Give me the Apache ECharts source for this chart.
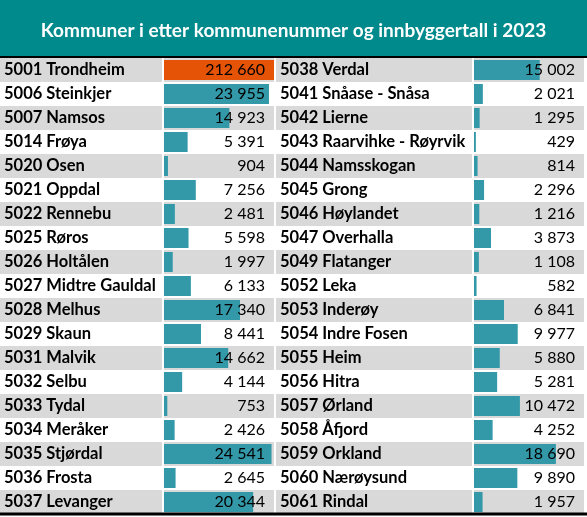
<!DOCTYPE html>
<html><head><meta charset="utf-8">
<script src="https://cdn.jsdelivr.net/npm/echarts@6/dist/echarts.min.js"></script>
<style>html,body{margin:0;padding:0;background:#fff}#c{width:587px;height:517px}</style>
</head><body><div id="c"></div>
<script>
const titleText = 'Kommuner i etter kommunenummer og innbyggertall i 2023';
const leftNames = ['5001 Trondheim','5006 Steinkjer','5007 Namsos','5014 Frøya','5020 Osen','5021 Oppdal','5022 Rennebu','5025 Røros','5026 Holtålen','5027 Midtre Gauldal','5028 Melhus','5029 Skaun','5031 Malvik','5032 Selbu','5033 Tydal','5034 Meråker','5035 Stjørdal','5036 Frosta','5037 Levanger'];
const leftValues = [212660,23955,14923,5391,904,7256,2481,5598,1997,6133,17340,8441,14662,4144,753,2426,24541,2645,20344];
const rightNames = ['5038 Verdal','5041 Snåase - Snåsa','5042 Lierne','5043 Raarvihke - Røyrvik','5044 Namsskogan','5045 Grong','5046 Høylandet','5047 Overhalla','5049 Flatanger','5052 Leka','5053 Inderøy','5054 Indre Fosen','5055 Heim','5056 Hitra','5057 Ørland','5058 Åfjord','5059 Orkland','5060 Nærøysund','5061 Rindal'];
const rightValues = [15002,2021,1295,429,814,2296,1216,3873,1108,582,6841,9977,5880,5281,10472,4252,18690,9890,1957];
const highlightName = '5001 Trondheim';
const AXIS_MAX = 25100;

const FONT = 'Lato';
const TEAL = '#008A8C', BAR = '#3399A9', ORANGE = '#E55306', GRAY = '#D9D9D9';
const fmt = v => String(v).replace(/\B(?=(\d{3})+(?!\d))/g, ' ');

const TOP = 58, H = 456;
const grids = [
  {left: 0, top: TOP, width: 162, height: H},
  {left: 164, top: TOP, width: 110, height: H},
  {left: 276, top: TOP, width: 196, height: H},
  {left: 474, top: TOP, width: 110, height: H}
];
const split = {show: true, areaStyle: {color: [GRAY, '#FFFFFF']}};
const hidden = {show: false};

function nameAxes(gi, names) {
  return [{
    type: 'category', gridIndex: gi, data: names, inverse: true,
    axisLine: hidden, axisTick: hidden, splitLine: hidden, splitArea: split,
    axisLabel: {inside: true, margin: 4, fontFamily: FONT, fontWeight: 'bold', fontSize: 16.5, color: '#000'}
  }];
}
function barAxes(gi, names, values) {
  return [{
    type: 'category', gridIndex: gi, data: names, inverse: true,
    axisLine: hidden, axisTick: hidden, splitLine: hidden, axisLabel: hidden, splitArea: split
  }, {
    type: 'category', gridIndex: gi, data: names, inverse: true, position: 'right', z: 10,
    axisLine: hidden, axisTick: hidden, splitLine: hidden, splitArea: hidden,
    axisLabel: {inside: true, margin: 9, fontFamily: FONT, fontSize: 16, color: '#000',
      formatter: (v, i) => fmt(values[i])}
  }];
}
const yAxis = [
  ...nameAxes(0, leftNames),
  ...barAxes(1, leftNames, leftValues),
  ...nameAxes(2, rightNames),
  ...barAxes(3, rightNames, rightValues)
];
const xAxis = grids.map((g, i) => ({
  type: 'value', gridIndex: i, min: 0, max: (i % 2) ? AXIS_MAX : 1, show: false
}));
function barSeries(xi, yi, names, values) {
  return {
    type: 'bar', xAxisIndex: xi, yAxisIndex: yi, barWidth: 20, silent: true, clip: true,
    data: values.map((v, i) => ({value: v, itemStyle: {color: names[i] === highlightName ? ORANGE : BAR}})),
    animation: false
  };
}
const chart = echarts.init(document.getElementById('c'), null, {renderer: 'canvas'});
chart.setOption({
  backgroundColor: '#fff',
  animation: false,
  title: {text: titleText, left: 'center', top: 16,
    textStyle: {color: '#fff', fontFamily: FONT, fontWeight: 'bold', fontSize: 19}},
  graphic: [
    {type: 'rect', shape: {x: 0, y: 0, width: 587, height: 57}, style: {fill: TEAL}, z: -1},
    {type: 'rect', shape: {x: 0, y: 56, width: 587, height: 2}, style: {fill: '#000'}, z: 100},
    {type: 'rect', shape: {x: 0, y: 512.5, width: 587, height: 3}, style: {fill: '#000'}, z: 100}
  ],
  grid: grids,
  xAxis: xAxis,
  yAxis: yAxis,
  series: [barSeries(1, 1, leftNames, leftValues), barSeries(3, 4, rightNames, rightValues)]
});
</script></body></html>
